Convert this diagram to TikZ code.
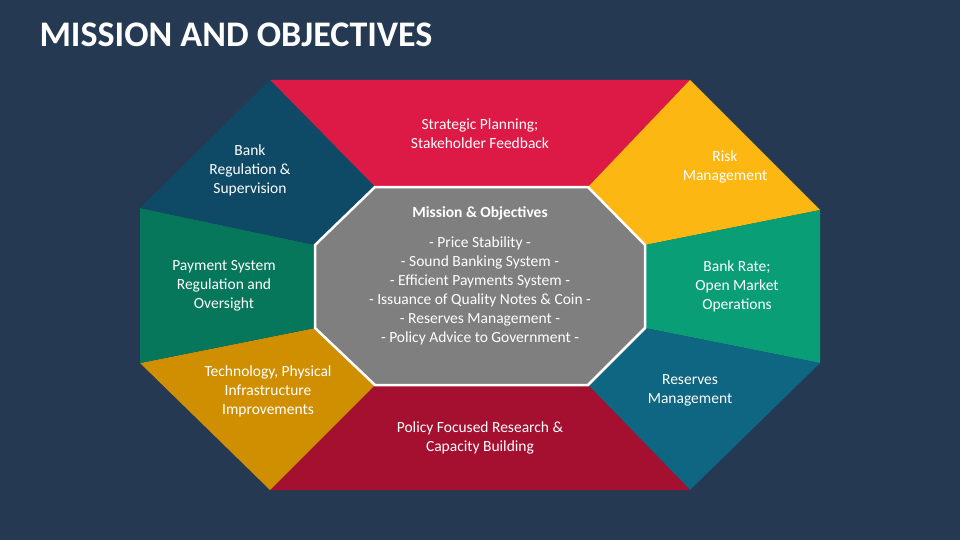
\documentclass[tikz,border=0pt]{standalone}
\usepackage{fontspec}
\setmainfont{Carlito}
\definecolor{bg}{HTML}{253A52}
\definecolor{cred}{HTML}{DC1A45}
\definecolor{cyel}{HTML}{FDB713}
\definecolor{cgrr}{HTML}{0A9E77}
\definecolor{cblr}{HTML}{0F6682}
\definecolor{ccri}{HTML}{A51030}
\definecolor{cgold}{HTML}{D08F00}
\definecolor{cgrl}{HTML}{06775A}
\definecolor{cnavy}{HTML}{0E4A66}
\definecolor{cgray}{HTML}{7F7F7F}
\begin{document}
\begin{tikzpicture}[x=1pt,y=-1pt,
 lbl/.style={text=white,align=center,font=\fontsize{15.5}{19}\selectfont}]
\useasboundingbox (0,0) rectangle (960,540);
\fill[bg] (0,0) rectangle (960,540);
\node[anchor=west,text=white,font=\fontsize{36}{40}\selectfont\bfseries] (title) at (36,35) {MISSION AND OBJECTIVES};
\coordinate (o1) at (270,80); \coordinate (o2) at (690,80);
\coordinate (o3) at (820,210); \coordinate (o4) at (820,363);
\coordinate (o5) at (690,490); \coordinate (o6) at (270,490);
\coordinate (o7) at (140,363); \coordinate (o8) at (140,208);
\coordinate (i1) at (375,187); \coordinate (i2) at (588,187);
\coordinate (i3) at (645,245); \coordinate (i4) at (645,328);
\coordinate (i5) at (588,385); \coordinate (i6) at (375,385);
\coordinate (i7) at (315,328); \coordinate (i8) at (315,245);
\fill[cred] (o1)--(o2)--(i2)--(i1)--cycle;
\fill[cyel] (o2)--(o3)--(i3)--(i2)--cycle;
\fill[cgrr] (o3)--(o4)--(i4)--(i3)--cycle;
\fill[cblr] (o4)--(o5)--(i5)--(i4)--cycle;
\fill[ccri] (o5)--(o6)--(i6)--(i5)--cycle;
\fill[cgold] (o6)--(o7)--(i7)--(i6)--cycle;
\fill[cgrl] (o7)--(o8)--(i8)--(i7)--cycle;
\fill[cnavy] (o8)--(o1)--(i1)--(i8)--cycle;
\filldraw[fill=cgray,draw=white,line width=2.5] (i1)--(i2)--(i3)--(i4)--(i5)--(i6)--(i7)--(i8)--cycle;
\node[lbl] (t1) at (480,134) {Strategic Planning;\\Stakeholder Feedback};
\node[lbl] (t2) at (725,167) {Risk\\Management};
\node[lbl] (t3) at (737,286) {Bank Rate;\\Open Market\\Operations};
\node[lbl] (t4) at (690,390) {Reserves\\Management};
\node[lbl] (t5) at (480,438) {Policy Focused Research \&\\Capacity Building};
\node[lbl] (t6) at (268,391) {Technology, Physical\\Infrastructure\\Improvements};
\node[lbl] (t7) at (224,286) {Payment System\\Regulation and\\Oversight};
\node[lbl] (t8) at (250,170) {Bank\\Regulation \&\\Supervision};
\node[lbl,font=\fontsize{15.5}{19}\selectfont\bfseries] (c0) at (480,213) {Mission \& Objectives};
\node[lbl] (c1) at (480,291) {- Price Stability -\\- Sound Banking System -\\- Efficient Payments System -\\- Issuance of Quality Notes \& Coin -\\- Reserves Management -\\- Policy Advice to Government -};
\end{tikzpicture}
\end{document}
